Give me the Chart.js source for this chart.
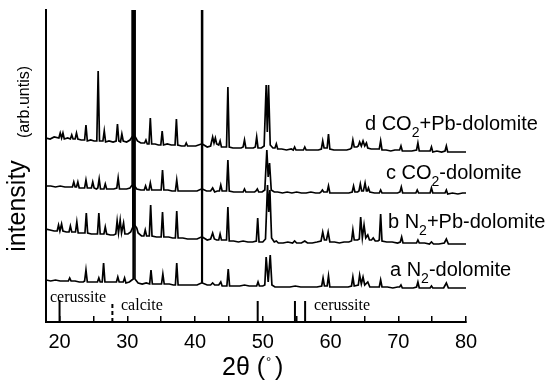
<!DOCTYPE html>
<html>
<head>
<meta charset="utf-8">
<script src="https://cdn.jsdelivr.net/npm/chart.js@4.4.1/dist/chart.umd.min.js"></script>
<style>
  html, body { margin: 0; padding: 0; background: #fff; }
  #wrap { width: 550px; height: 386px; }
</style>
</head>
<body>
<div id="wrap"><canvas id="xrd"></canvas></div>
<script>
// 2theta / intensity pairs (arb. units, stacked)
// the 31 and 41 deg reflections run far off the top of the frame
var traceD = [[18,184],[18.6,183],[19.2,185],[19.9,184],[20.1,189],[20.3,184],[20.5,189],[20.7,183],[21.2,184],[21.6,183],[21.8,187],[22.0,183],[22.3,183],[22.5,189],[22.7,183],[23.2,182],[23.7,182],[23.9,197],[24.1,181],[24.6,182],[25.1,181],[25.5,181],[25.7,251],[25.9,181],[26.4,181],[26.6,191],[26.8,180],[27.3,181],[27.9,180],[28.35,181],[28.55,198],[28.75,181],[29.0,180],[29.2,188],[29.4,181],[29.9,180],[30.4,182],[30.8,186],[30.95,5000],[31.1,186],[31.5,181],[32.0,179],[32.55,179],[32.75,182],[32.95,178],[33.2,178],[33.4,204],[33.6,178],[34.1,178],[34.6,177],[34.95,177],[35.15,191],[35.35,177],[35.9,178],[36.5,177],[37.05,177],[37.25,203],[37.45,177],[38.0,176],[38.5,176],[38.7,179],[38.9,176],[39.5,176],[40.1,176],[40.93,178],[41.0,5000],[41.07,178],[41.8,175],[42.3,176],[42.6,185],[42.8,179],[43.0,184],[43.2,178],[43.5,177],[43.7,181],[43.9,175],[44.4,175],[44.65,175],[44.85,235],[45.05,175],[45.6,174],[46.2,174],[46.8,174],[47.1,175],[47.3,182],[47.5,174],[48.1,174],[48.6,174],[48.9,175],[49.1,185],[49.3,174],[49.8,174],[50.2,176],[50.5,237],[50.67,190],[50.85,237],[51.1,177],[51.5,174],[51.8,174],[52.0,178],[52.2,173],[52.8,173],[53.5,172],[54.2,173],[54.5,172],[54.7,175],[54.9,172],[55.5,172],[56.0,172],[56.2,175],[56.4,172],[57.0,172],[57.6,172],[58.2,172],[58.65,173],[58.85,181],[59.05,174],[59.5,174],[59.7,188],[59.9,173],[60.5,172],[61.2,172],[61.8,172],[62.4,172],[62.9,173],[63.1,174],[63.3,182],[63.5,175],[63.9,175],[64.1,176],[64.3,180],[64.55,176],[64.8,181],[65.05,176],[65.3,179],[65.5,174],[66.0,173],[66.6,173],[67.2,173],[67.4,181],[67.6,172],[68.2,172],[68.9,171],[69.5,172],[70.2,172],[70.4,176],[70.6,171],[71.3,171],[72.0,171],[72.7,172],[72.9,179],[73.1,171],[73.8,171],[74.4,171],[74.7,171],[74.9,175],[75.1,170],[75.7,171],[76.4,170],[76.9,171],[77.1,176],[77.3,170],[78.0,170],[78.7,170],[79.4,170],[80,170]];

var traceC = [[18,136],[18.7,136],[19.4,135],[20.1,136],[20.8,135],[21.4,135],[21.9,135],[22.1,140],[22.3,135],[22.5,135],[22.7,140],[22.9,134],[23.4,134],[23.7,134],[23.9,142],[24.1,134],[24.5,134],[24.7,134],[24.9,140],[25.1,134],[25.45,133],[25.65,134],[25.85,143],[26.05,133],[26.55,133],[26.75,138],[26.95,133],[27.5,133],[28.0,133],[28.45,134],[28.65,144],[28.85,133],[29.4,133],[29.9,133],[30.4,134],[30.72,137],[30.85,5000],[30.98,137],[31.4,133],[32.0,132],[32.5,132],[32.7,136],[32.9,132],[33.2,132],[33.4,139],[33.6,132],[34.2,132],[34.7,132],[35.0,132],[35.2,152],[35.4,132],[36.0,132],[36.6,131],[37.1,131],[37.3,142],[37.5,131],[38.2,131],[38.9,131],[39.6,131],[40.3,131],[40.93,133],[41.0,5000],[41.07,133],[41.7,131],[42.3,131],[42.6,134],[42.9,130],[43.3,131],[43.6,131],[43.8,137],[44.0,131],[44.4,131],[44.65,131],[44.85,162],[45.05,131],[45.7,130],[46.4,130],[47.1,130],[47.3,133],[47.5,130],[48.2,130],[48.8,130],[49.0,131],[49.2,133],[49.4,130],[49.9,130],[50.3,132],[50.6,172],[50.8,145],[51.0,159],[51.25,132],[51.7,130],[52.2,130],[52.9,129],[53.6,130],[54.3,129],[55.0,130],[55.7,129],[56.4,129],[57.1,130],[57.8,129],[58.4,129],[58.6,130],[58.8,132],[59.0,130],[59.5,130],[59.7,136],[59.9,129],[60.6,129],[61.3,129],[62.0,129],[62.7,129],[63.2,130],[63.4,136],[63.6,130],[64.0,130],[64.2,131],[64.4,138],[64.6,131],[64.85,131],[65.1,139],[65.3,131],[65.45,131],[65.6,134],[65.8,130],[66.5,129],[67.2,129],[67.4,132],[67.6,129],[68.4,129],[69.2,129],[69.9,129],[70.25,130],[70.45,135],[70.65,129],[71.4,129],[72.1,129],[72.6,129],[72.8,132],[73.0,129],[73.7,129],[74.4,129],[74.7,129],[74.9,134],[75.1,129],[75.8,129],[76.5,129],[76.9,129],[77.1,132],[77.3,128],[78.0,129],[78.8,128],[79.5,129],[80,129]];

var traceB = [[18,93],[18.6,92],[19.2,91],[19.65,91],[19.85,97],[20.05,91],[20.3,98],[20.5,91],[21.0,90],[21.4,90],[21.6,96],[21.8,90],[22.1,90],[22.35,90],[22.55,100],[22.75,89],[23.3,89],[23.75,89],[23.95,109],[24.15,89],[24.7,88],[25.2,88],[25.6,88],[25.8,109],[26.0,88],[26.55,88],[26.75,95],[26.95,88],[27.5,87],[28.0,87],[28.3,88],[28.5,101],[28.7,89],[28.95,102],[29.15,89],[29.45,99],[29.65,88],[30.1,88],[30.5,90],[30.82,95],[30.95,5000],[31.08,97],[31.4,94],[31.6,89],[32.1,86],[32.45,86],[32.65,92],[32.85,86],[33.25,86],[33.45,117],[33.65,86],[34.3,85],[35.0,85],[35.2,110],[35.4,85],[36.1,85],[36.7,84],[37.1,84],[37.3,111],[37.5,84],[38.2,84],[38.9,83],[39.6,83],[40.3,83],[40.93,85],[41.0,5000],[41.07,85],[41.8,82],[42.3,83],[42.6,89],[42.85,83],[43.2,82],[43.5,82],[43.7,88],[43.9,82],[44.4,82],[44.65,82],[44.85,115],[45.05,81],[45.7,81],[46.4,80],[47.1,81],[47.8,80],[48.5,80],[49.05,81],[49.25,104],[49.45,80],[50.0,80],[50.4,83],[50.7,137],[50.88,110],[51.05,132],[51.3,84],[51.7,80],[52.0,81],[52.3,79],[53.0,79],[53.7,80],[54.4,79],[54.7,81],[55.0,79],[55.7,79],[56.2,81],[56.6,79],[57.3,79],[58.0,80],[58.6,81],[58.85,90],[59.1,82],[59.4,82],[59.65,90],[59.9,80],[60.6,80],[61.3,79],[62.0,80],[62.7,80],[63.1,81],[63.3,92],[63.5,82],[64.0,82],[64.25,83],[64.45,105],[64.7,84],[64.95,97],[65.2,84],[65.5,87],[65.75,82],[66.05,82],[66.3,84],[66.6,81],[67.0,81],[67.2,82],[67.4,108],[67.6,81],[68.3,80],[69.1,80],[69.9,79],[70.3,80],[70.5,85],[70.7,79],[71.5,79],[72.3,79],[72.7,79],[72.9,82],[73.1,79],[73.9,79],[74.6,78],[74.9,80],[75.2,78],[76.0,78],[76.8,79],[77.1,83],[77.4,78],[78.2,78],[79.0,78],[79.6,78],[80,78]];

var traceA = [[18,42],[18.7,41],[19.4,42],[20.1,41],[20.8,41],[21.3,41],[21.5,44],[21.7,41],[22.3,41],[22.9,40],[23.5,40],[23.7,41],[23.9,52],[24.1,40],[24.7,40],[25.3,40],[25.6,40],[25.8,44],[26.0,40],[26.3,40],[26.5,59],[26.7,40],[27.3,40],[27.9,40],[28.4,40],[28.6,45],[28.8,40],[29.4,40],[29.6,44],[29.8,39],[30.3,40],[30.87,43],[31.0,5000],[31.13,43],[31.6,39],[32.2,38],[32.8,39],[33.3,38],[33.5,52],[33.7,38],[34.4,38],[35.05,38],[35.25,48],[35.45,38],[36.2,38],[36.8,37],[37.1,37],[37.3,59],[37.5,37],[38.2,37],[38.9,37],[39.6,37],[40.3,37],[40.93,39],[41.0,5000],[41.07,39],[41.8,37],[42.3,37],[42.6,39],[42.9,37],[43.5,37],[43.8,40],[44.0,36],[44.5,36],[44.7,36],[44.9,53],[45.1,36],[45.8,36],[46.6,36],[47.3,37],[48.0,36],[48.7,36],[49.1,36],[49.3,40],[49.5,36],[50.0,36],[50.3,37],[50.5,65],[50.8,40],[51.1,67],[51.35,37],[51.8,35],[52.5,35],[53.3,35],[54.0,35],[54.8,36],[55.6,35],[56.4,35],[57.2,35],[58.0,35],[58.7,36],[58.9,44],[59.1,36],[59.5,36],[59.7,46],[59.9,35],[60.6,35],[61.3,35],[62.0,35],[62.6,35],[63.1,36],[63.3,45],[63.5,36],[64.1,37],[64.3,47],[64.55,38],[64.8,45],[65.05,37],[65.5,40],[65.8,35],[66.5,35],[67.2,35],[67.4,42],[67.6,35],[68.4,35],[69.2,34],[69.9,35],[70.2,35],[70.4,37],[70.6,34],[71.4,34],[72.2,34],[72.7,35],[72.9,40],[73.1,34],[73.9,34],[74.7,34],[74.9,36],[75.1,34],[75.9,34],[76.7,34],[77.1,39],[77.4,34],[78.2,34],[79.0,34],[79.6,34],[80,34]];

// reference sticks at the bottom
var cerussitePos = [20.0, 49.25, 54.75, 56.25];
var cerussiteH = [22, 21, 21, 21];
var calcitePos = [27.8];
var calciteH = [20];

var xTickValues = [20, 25, 30, 35, 40, 45, 50, 55, 60, 65, 70, 75, 80];

// sample labels: prefix, subscript, suffix
var sampleNames = [
  ['a N', '2', '-dolomite'],
  ['b N', '2', '+Pb-dolomite'],
  ['c CO', '2', '-dolomite'],
  ['d CO', '2', '+Pb-dolomite']
];

var sansFont = 'Arial, "Liberation Sans", sans-serif';
var serifFont = '"Times New Roman", "Liberation Serif", serif';

var datasets = [];
[traceA, traceB, traceC, traceD].forEach(function (t) {
  datasets.push({ data: t, borderColor: '#000', borderWidth: 1.7, pointRadius: 0, tension: 0, fill: false });
});
for (var i = 0; i < cerussitePos.length; i++) {
  datasets.push({ data: [[cerussitePos[i], 0], [cerussitePos[i], cerussiteH[i]]], borderColor: '#000', borderWidth: 2, pointRadius: 0 });
}
for (var j = 0; j < calcitePos.length; j++) {
  datasets.push({ data: [[calcitePos[j], 0], [calcitePos[j], calciteH[j]]], borderColor: '#000', borderWidth: 2, borderDash: [4, 3], pointRadius: 0 });
}

var labelPos = [[390, 276], [388, 228], [386, 179], [365, 130]];

var textPlugin = {
  id: 'texts',
  afterDraw: function (chart) {
    var ctx = chart.ctx;
    ctx.save();
    ctx.fillStyle = '#000';
    ctx.textBaseline = 'alphabetic';
    ctx.textAlign = 'left';

    // sample names with subscript
    for (var k = 0; k < sampleNames.length; k++) {
      var x = labelPos[k][0], y = labelPos[k][1];
      ctx.font = '20px ' + sansFont;
      ctx.fillText(sampleNames[k][0], x, y);
      x += ctx.measureText(sampleNames[k][0]).width;
      ctx.font = '14px ' + sansFont;
      ctx.fillText(sampleNames[k][1], x, y + 7);
      x += ctx.measureText(sampleNames[k][1]).width;
      ctx.font = '20px ' + sansFont;
      ctx.fillText(sampleNames[k][2], x, y);
    }

    // stick labels
    ctx.font = '16px ' + serifFont;
    ctx.fillText('cerussite', 50, 302);
    ctx.fillText('calcite', 121, 310);
    ctx.fillText('cerussite', 314, 310);

    // x title
    ctx.font = '25px ' + sansFont;
    ctx.fillText('2\u03b8 (', 222, 375);
    var w = ctx.measureText('2\u03b8 (').width;
    ctx.font = '13px ' + sansFont;
    ctx.fillText('\u00b0', 222 + w + 1, 366);
    ctx.font = '25px ' + sansFont;
    ctx.fillText(')', 275, 375);

    // y title, rotated
    ctx.translate(25, 0);
    ctx.rotate(-Math.PI / 2);
    ctx.textAlign = 'center';
    ctx.font = '25px ' + sansFont;
    ctx.fillText('intensity', -206, 0);
    ctx.font = '16px ' + sansFont;
    ctx.fillText('(arb.untis)', -102, 4);
    ctx.restore();
  }
};

new Chart(document.getElementById('xrd'), {
  type: 'line',
  data: { datasets: datasets },
  options: {
    responsive: true,
    maintainAspectRatio: false,
    animation: false,
    layout: { padding: { left: 0, right: 84, top: 10, bottom: 0 } },
    plugins: { legend: { display: false }, tooltip: { enabled: false } },
    scales: {
      x: {
        type: 'linear',
        min: 18,
        max: 80,
        afterBuildTicks: function (s) {
          s.ticks = xTickValues.map(function (v) { return { value: v }; });
        },
        afterFit: function (s) { s.height = 64; },
        ticks: {
          autoSkip: false,
          maxRotation: 0,
          padding: 14,
          color: '#000',
          font: { family: sansFont, size: 20 },
          callback: function (v) { return v % 10 === 0 ? v : ''; }
        },
        grid: { display: true, drawOnChartArea: false, drawTicks: true, tickLength: -6, color: '#000', lineWidth: 1.5 },
        border: { display: true, color: '#000', width: 2 }
      },
      y: {
        min: 0,
        max: 312,
        afterFit: function (s) { s.width = 46; },
        ticks: { display: false },
        grid: { display: false },
        border: { display: true, color: '#000', width: 2 }
      }
    }
  },
  plugins: [textPlugin]
});
</script>
</body>
</html>
